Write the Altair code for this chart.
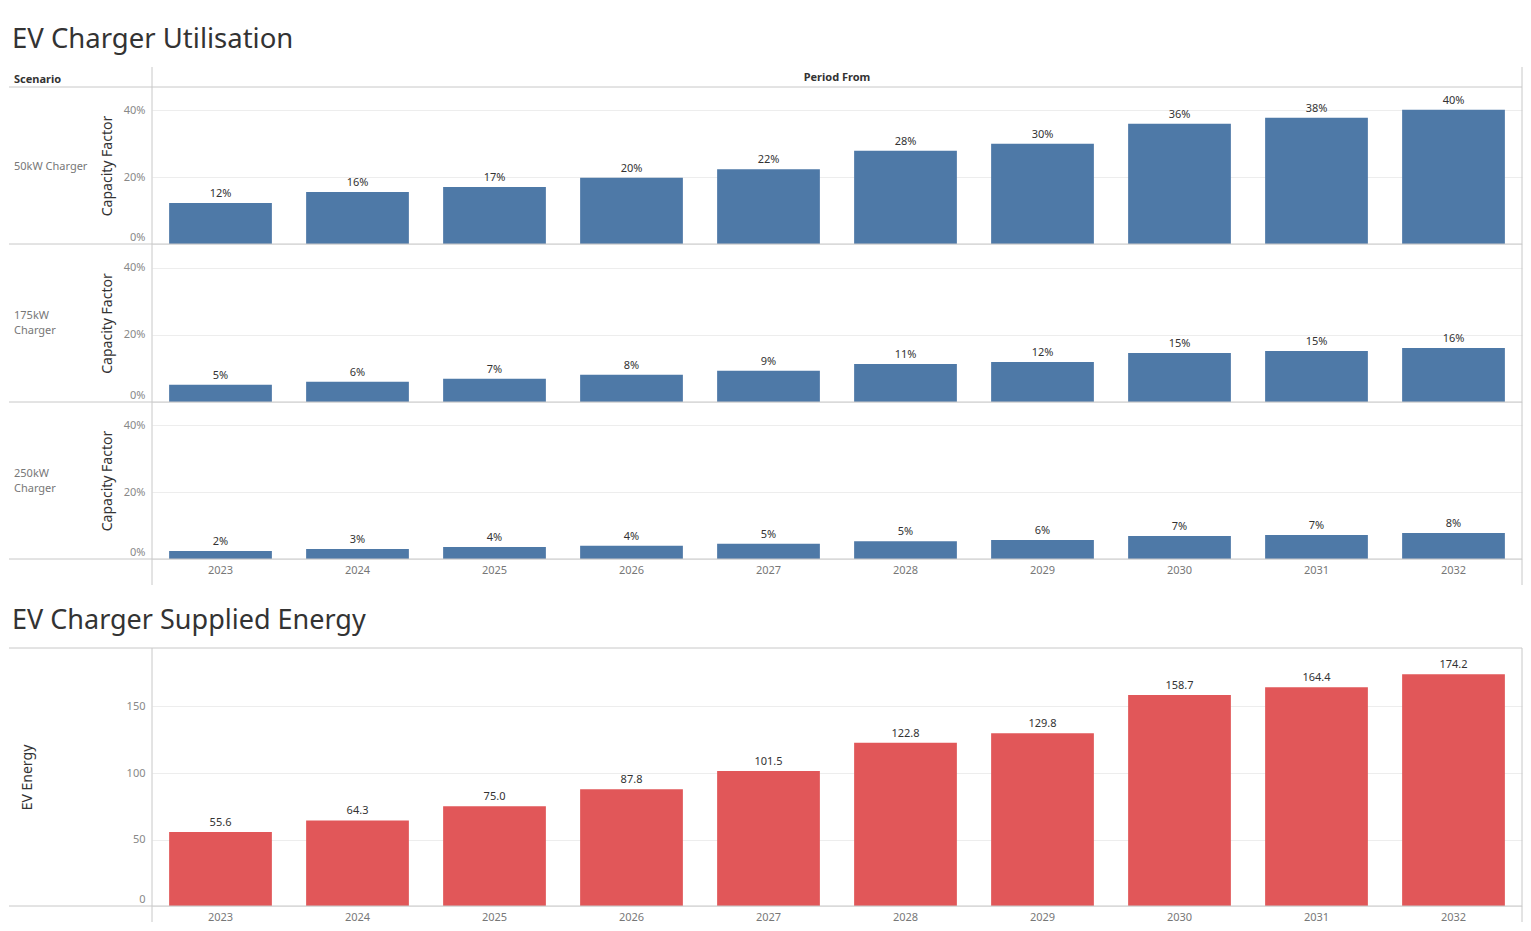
import altair as alt
import pandas as pd

# ---------------- data ----------------
years = ["2023", "2024", "2025", "2026", "2027", "2028", "2029", "2030", "2031", "2032"]
scenarios = ["50kW Charger", "175kW\nCharger", "250kW\nCharger"]
cf_50kw = [0.123, 0.156, 0.171, 0.198, 0.224, 0.279, 0.300, 0.360, 0.378, 0.402]
cf_175kw = [0.051, 0.060, 0.069, 0.081, 0.093, 0.113, 0.119, 0.146, 0.152, 0.161]
cf_250kw = [0.024, 0.030, 0.036, 0.040, 0.046, 0.053, 0.057, 0.069, 0.072, 0.078]
ev_energy = [55.6, 64.3, 75.0, 87.8, 101.5, 122.8, 129.8, 158.7, 164.4, 174.2]
title_top = "EV Charger Utilisation"
title_bottom = "EV Charger Supplied Energy"
header_row = "Scenario"
header_col = "Period From"

# ---------------- style ----------------
FONT = "Noto Sans"
W = 1370          # plot width
LEFT = 143        # left header column width
LINE = "#c8c8c8"
GRID = "#ededed"
PANEL_H = [157, 158, 157]
BH = 258          # bottom chart height
BLUE = "#4e79a7"
RED = "#e15759"

dummy = pd.DataFrame({"k": [0]})


def hline(y, x1=-LEFT, x2=W):
    return alt.Chart(dummy).mark_rule(color=LINE, strokeWidth=1).encode(
        x=alt.value(x1), x2=alt.value(x2), y=alt.value(y))


def vline(x, y1, y2):
    return alt.Chart(dummy).mark_rule(color=LINE, strokeWidth=1).encode(
        x=alt.value(x), y=alt.value(y1), y2=alt.value(y2))


def text_at(txt, x, y, size=11, color="#333", weight="normal", align="left"):
    return alt.Chart(pd.DataFrame({"t": [txt]})).mark_text(
        align=align, baseline="middle", fontSize=size, color=color,
        fontWeight=weight, lineBreak="\n", lineHeight=15, font=FONT).encode(
        x=alt.value(x), y=alt.value(y), text="t:N")


def x_enc(show):
    axis = None
    if show:
        axis = alt.Axis(title=None, labelAngle=0, ticks=False, domain=False,
                        labelPadding=5, labelColor="#777", labelFontSize=11,
                        grid=False)
    return alt.X("year:O", sort=years,
                 scale=alt.Scale(paddingInner=0.25, paddingOuter=0.125),
                 axis=axis)


# ---------------- title 1 ----------------
t1 = text_at(title_top, -140, 32, size=27.5, color="#333").properties(width=W, height=59)

# ---------------- header row ----------------
header = alt.layer(
    text_at(header_row, -138, 13, size=11, color="#333", weight="bold"),
    text_at(header_col, W / 2, 11, size=11, color="#333", weight="bold", align="center"),
    vline(0, 0, 20),
    vline(W, 0, 20),
    hline(20),
).properties(width=W, height=20)


def panel(values, scen, show_x, ph):
    df = pd.DataFrame({"year": years, "cf": values})
    y = alt.Y("cf:Q", scale=alt.Scale(domain=[0, 0.47], nice=False),
              axis=alt.Axis(title="Capacity Factor", format=".0%", values=[0, 0.2, 0.4],
                            ticks=False, domain=False, grid=True, gridColor=GRID,
                            labelColor="#888", labelFontSize=11, labelPadding=7,
                            labelFlush=5, labelFlushOffset=-2,
                            titleFontSize=14, titleColor="#333",
                            titleFontWeight="normal", titleX=-45, titleY=ph / 2,
                            titleAngle=270, titleAlign="center", titleBaseline="middle"))
    base = alt.Chart(df)
    bars = base.mark_bar(color=BLUE).encode(x=x_enc(show_x), y=y)
    labels = base.mark_text(baseline="bottom", dy=-4, fontSize=11, color="#333").encode(
        x=alt.X("year:O", sort=years), y="cf:Q",
        text=alt.Text("cf:Q", format=".0%"))
    ext = 26 if show_x else 0
    scen_y = ph / 2 - 7 if "\n" in scen else ph / 2 + 1
    return alt.layer(
        bars, labels,
        text_at(scen, -138, scen_y, size=11, color="#777"),
        vline(0, 0, ph + ext),
        vline(W, 0, ph + ext),
        hline(ph),
    ).properties(width=W, height=ph)


p1 = panel(cf_50kw, scenarios[0], False, PANEL_H[0])
p2 = panel(cf_175kw, scenarios[1], False, PANEL_H[1])
p3 = panel(cf_250kw, scenarios[2], True, PANEL_H[2])

# ---------------- title 2 ----------------
t2 = text_at(title_bottom, -140, 62, size=27, color="#333").properties(width=W, height=89)

# ---------------- bottom chart ----------------
edf = pd.DataFrame({"year": years, "energy": ev_energy})
ey = alt.Y("energy:Q", scale=alt.Scale(domain=[0, BH / 1.33], nice=False),
           axis=alt.Axis(title="EV Energy", values=[0, 50, 100, 150],
                         ticks=False, domain=False, grid=True, gridColor=GRID,
                         labelColor="#888", labelFontSize=11, labelPadding=7,
                         labelFlush=5, labelFlushOffset=-2,
                         titleFontSize=14, titleColor="#333",
                         titleFontWeight="normal", titleX=-125, titleY=BH / 2,
                         titleAngle=270, titleAlign="center", titleBaseline="middle"))
ebase = alt.Chart(edf)
ebars = ebase.mark_bar(color=RED).encode(x=x_enc(True), y=ey)
elabels = ebase.mark_text(baseline="bottom", dy=-4, fontSize=11, color="#333").encode(
    x=alt.X("year:O", sort=years), y="energy:Q",
    text=alt.Text("energy:Q", format=".1f"))
bottom = alt.layer(
    ebars, elabels,
    hline(0),
    hline(BH),
    vline(0, 0, BH + 16),
    vline(W, 0, BH + 16),
).properties(width=W, height=BH)

chart = alt.vconcat(t1, header, p1, p2, p3, t2, bottom, spacing=0, bounds="flush").properties(
    padding={"left": 0, "top": 0, "right": 0, "bottom": 0}
).configure(font=FONT).configure_view(stroke=None).configure_concat(spacing=0)

chart.save("out.html", embed_options={"renderer": "svg", "actions": False})
